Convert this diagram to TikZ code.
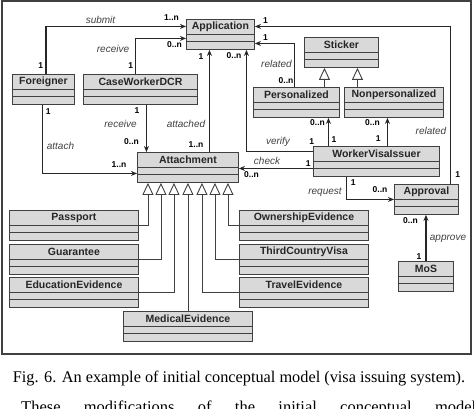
\documentclass[tikz,border=0pt]{standalone}
\usepackage{fontspec}
\setmainfont{Liberation Serif}
\setsansfont{Liberation Sans}
\usetikzlibrary{arrows.meta}

\tikzset{
  classbox/.style={draw=black!75, fill=black!15, line width=0.9pt, minimum height=30, inner sep=0pt},
  classline/.style={draw=black!75, line width=0.8pt},
  classname/.style={font=\sffamily\bfseries\fontsize{10.5}{12}\selectfont, text=black!85, inner sep=0pt},
  assoc/.style={draw=black!85, line width=1.1pt, -{Stealth[length=6pt,width=5pt]}},
  generalize/.style={draw=black!75, line width=0.9pt, -{Triangle[open,fill=white,length=12pt,width=11pt]}},
  mult/.style={font=\sffamily\bfseries\fontsize{8.5}{10}\selectfont, inner sep=0pt},
  role/.style={font=\sffamily\itshape\fontsize{10}{12}\selectfont, text=black!75, inner sep=0pt},
}

% class with name and two empty compartments
\newcommand{\umlclass}[5]{%
  \node[classbox, minimum width=#4, anchor=north west] (#1) at (#2,#3) {};
  \draw[classline] ([yshift=-15]#1.north west) -- ([yshift=-15]#1.north east);
  \draw[classline] ([yshift=-22.5]#1.north west) -- ([yshift=-22.5]#1.north east);
  \node[classname] (#1-name) at ([yshift=-7.5]#1.north) {#5};
}

\begin{document}
\begin{tikzpicture}[x=1pt,y=-1pt]
  \useasboundingbox (0,0) rectangle (474,409);
  \draw[line width=2pt, draw=black!75] (1.5,1) rectangle (471,354);

  \umlclass{app}{186}{19}{68}{Application}
  \umlclass{for}{12}{74}{62}{Foreigner}
  \umlclass{cw}{83}{74}{114}{CaseWorkerDCR}
  \umlclass{att}{137}{152}{101}{Attachment}
  \umlclass{sticker}{304}{37}{74}{Sticker}
  \umlclass{pers}{253}{87}{86}{Personalized}
  \umlclass{nonpers}{344}{87}{99}{Nonpersonalized}
  \umlclass{wvi}{313}{146}{126}{WorkerVisaIssuer}
  \umlclass{appr}{394}{184}{64}{Approval}
  \umlclass{mos}{398}{261}{55}{MoS}
  \umlclass{pass}{9}{210}{129}{Passport}
  \umlclass{guar}{9}{244}{129}{Guarantee}
  \umlclass{edu}{9}{277}{129}{EducationEvidence}
  \umlclass{med}{123}{311}{129}{MedicalEvidence}
  \umlclass{own}{239}{210}{129}{OwnershipEvidence}
  \umlclass{third}{239}{244}{129}{ThirdCountryVisa}
  \umlclass{travel}{239}{277}{129}{TravelEvidence}

  \draw[assoc] ([xshift=2.5]for.north) |- ([yshift=8]app.west);
  \draw[assoc] ([xshift=-5]cw.north) |- ([yshift=-4]app.west);
  \draw[assoc] ([xshift=6]cw.south) -- ([xshift=-41.5]att.north);
  \draw[assoc] ([xshift=21.5]att.north) -- ([xshift=-11]app.south);
  \draw[assoc] ([xshift=-1]for.south) |- ([yshift=-6]att.west);
  \draw[assoc] ([yshift=10]wvi.west) -| ([xshift=26]app.south);
  \draw[assoc] ([xshift=-48]wvi.north) -- ([xshift=32]pers.south);
  \draw[assoc] ([xshift=11]wvi.north) -- ([xshift=-6.5]nonpers.south);
  \draw[assoc] ([xshift=-2]pers.north) |- ([yshift=-9]app.east);
  \draw[assoc] ([xshift=24]appr.north) |- ([yshift=8]app.east);
  \draw[assoc] ([yshift=-7]wvi.west) -- ([yshift=-1]att.east);
  \draw[assoc] ([xshift=-30]wvi.south) |- (appr.west);
  \draw[assoc] (mos.north) -- ([xshift=-0.5]appr.south);

  \draw[generalize] ([xshift=28]pers.north) -- ([xshift=-17]sticker.south);
  \draw[generalize] ([xshift=-36.5]nonpers.north) -- ([xshift=16]sticker.south);
  \foreach \cls/\dx in {pass/-40, guar/-27, edu/-14}
    \draw[generalize] (\cls.east) -| ([xshift=\dx]att.south);
  \foreach \cls/\dx in {own/40, third/27, travel/14}
    \draw[generalize] (\cls.west) -| ([xshift=\dx]att.south);
  \draw[generalize] (med.north) -- (att.south);

  \node[role] (submit) at (100.5,20) {submit};
  \node[role] (receive-a) at (113,49) {receive};
  \node[role] (receive-b) at (120.5,123.5) {receive};
  \node[role] (attached) at (186,123.5) {attached};
  \node[role] (attach) at (60.5,146) {attach};
  \node[role] (related-a) at (276.5,63.5) {related};
  \node[role] (related-b) at (431,131.3) {related};
  \node[role] (verify) at (278,142) {verify};
  \node[role] (check) at (267,160.7) {check};
  \node[role] (request) at (325,192) {request};
  \node[role] (approve) at (448,238.7) {approve};

  \node[mult] (m-for-top) at (40.7,65.7) {1};
  \node[mult] (m-app-submit) at (171.5,18) {1..n};
  \node[mult] (m-cw-top) at (130.7,65.7) {1};
  \node[mult] (m-app-receive) at (174.5,45) {0..n};
  \node[mult] (m-app-attached) at (201,56.7) {1};
  \node[mult] (m-app-verify) at (234,56) {0..n};
  \node[mult] (m-cw-bottom) at (137,111) {1};
  \node[mult] (m-att-receive) at (131.5,141.7) {0..n};
  \node[mult] (m-att-attached) at (196,144.7) {1..n};
  \node[mult] (m-for-bottom) at (48.3,111.7) {1};
  \node[mult] (m-att-attach) at (119,165) {1..n};
  \node[mult] (m-app-appr) at (265.5,20.5) {1};
  \node[mult] (m-app-pers) at (265.5,38) {1};
  \node[mult] (m-pers-top) at (286,80.5) {0..n};
  \node[mult] (m-pers-bottom) at (317.5,123) {0..n};
  \node[mult] (m-nonpers-bottom) at (372.5,123) {0..n};
  \node[mult] (m-wvi-verify) at (311.7,141.7) {1};
  \node[mult] (m-wvi-pers) at (334,140) {1};
  \node[mult] (m-wvi-nonpers) at (378.3,138.7) {1};
  \node[mult] (m-wvi-check) at (308.3,163.7) {1};
  \node[mult] (m-att-check) at (251.5,175) {0..n};
  \node[mult] (m-wvi-request) at (353.3,182.3) {1};
  \node[mult] (m-appr-request) at (380,190) {0..n};
  \node[mult] (m-appr-top) at (457.7,174.3) {1};
  \node[mult] (m-appr-bottom) at (410.5,220.7) {0..n};
  \node[mult] (m-mos-top) at (419,256.7) {1};

  \node[anchor=base west, inner sep=0pt, font=\fontsize{16.3}{18}\selectfont] (caption) at (12.7,382) {Fig. 6. An example of initial conceptual model (visa issuing system).};
  \node[anchor=base west, inner sep=0pt, font=\fontsize{16.5}{18}\selectfont] (bodytext) at (21,412) {\makebox[455pt][s]{These modifications of the initial conceptual model}};
\end{tikzpicture}
\end{document}
